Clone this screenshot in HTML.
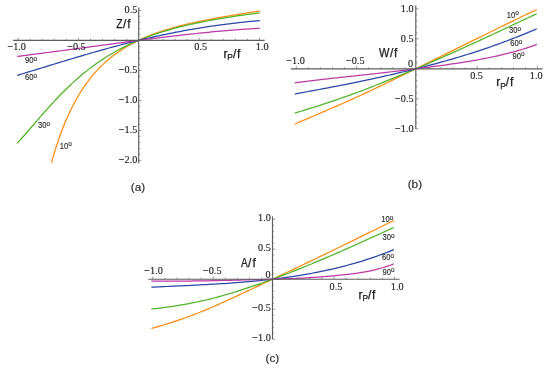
<!DOCTYPE html>
<html lang="en"><head><meta charset="utf-8"><title>Figure</title>
<style>
html,body{margin:0;padding:0;background:#fff;}
svg{display:block;filter:blur(0.3px);}
.tk{font-family:"Liberation Serif",serif;font-size:10.2px;fill:#1a1a1a;stroke:#1a1a1a;stroke-width:.12px;}
.ang{font-family:"Liberation Sans",sans-serif;font-size:8.4px;fill:#262626;stroke:#262626;stroke-width:.12px;}
.axl{font-family:"Liberation Sans",sans-serif;font-size:12px;fill:#1a1a1a;stroke:#1a1a1a;stroke-width:.25px;}
.cap{font-family:"Liberation Sans",sans-serif;font-size:11.8px;fill:#262626;stroke:#262626;stroke-width:.15px;}
</style></head><body>
<svg width="550" height="368" viewBox="0 0 550 368">
<rect width="550" height="368" fill="#fff"/>
<path d="M51.44 162.5 L53.64 154.91 L56.67 145.25 L59.71 136.41 L62.74 128.3 L65.77 120.85 L68.8 114 L71.84 107.69 L74.87 101.86 L77.9 96.47 L80.93 91.49 L83.97 86.87 L87 82.58 L90.03 78.59 L93.06 74.88 L96.1 71.41 L99.13 68.18 L102.16 65.16 L105.19 62.34 L108.23 59.69 L111.26 57.2 L114.29 54.87 L117.32 52.67 L120.36 50.6 L123.39 48.66 L126.42 46.82 L129.45 45.08 L132.49 43.43 L135.52 41.88 L138.55 40.4 L141.58 39 L144.62 37.67 L147.65 36.4 L150.68 35.19 L153.71 34.04 L156.75 32.94 L159.78 31.89 L162.81 30.89 L165.84 29.93 L168.88 29.01 L171.91 28.12 L174.94 27.27 L177.97 26.45 L181.01 25.66 L184.04 24.9 L187.07 24.17 L190.1 23.46 L193.14 22.77 L196.17 22.1 L199.2 21.45 L202.23 20.83 L205.27 20.22 L208.3 19.62 L211.33 19.04 L214.36 18.47 L217.4 17.92 L220.43 17.38 L223.46 16.84 L226.49 16.32 L229.53 15.81 L232.56 15.3 L235.59 14.8 L238.62 14.31 L241.66 13.83 L244.69 13.35 L247.72 12.87 L250.75 12.4 L253.79 11.93 L256.82 11.47 L259.85 11" stroke="#ff8c10" stroke-width="1.25" fill="none" stroke-linejoin="round"/>
<path d="M17.25 143.32 L20.28 139.93 L23.32 136.48 L26.35 133 L29.38 129.49 L32.41 125.97 L35.45 122.45 L38.48 118.94 L41.51 115.46 L44.54 112.01 L47.58 108.6 L50.61 105.24 L53.64 101.95 L56.67 98.71 L59.71 95.55 L62.74 92.45 L65.77 89.44 L68.8 86.5 L71.84 83.65 L74.87 80.88 L77.9 78.19 L80.93 75.59 L83.97 73.07 L87 70.63 L90.03 68.27 L93.06 66 L96.1 63.81 L99.13 61.69 L102.16 59.66 L105.19 57.69 L108.23 55.8 L111.26 53.98 L114.29 52.23 L117.32 50.54 L120.36 48.92 L123.39 47.36 L126.42 45.86 L129.45 44.41 L132.49 43.02 L135.52 41.69 L138.55 40.4 L141.58 39.16 L144.62 37.97 L147.65 36.82 L150.68 35.72 L153.71 34.66 L156.75 33.63 L159.78 32.65 L162.81 31.7 L165.84 30.78 L168.88 29.89 L171.91 29.04 L174.94 28.22 L177.97 27.42 L181.01 26.65 L184.04 25.91 L187.07 25.19 L190.1 24.49 L193.14 23.82 L196.17 23.17 L199.2 22.53 L202.23 21.92 L205.27 21.32 L208.3 20.75 L211.33 20.18 L214.36 19.64 L217.4 19.1 L220.43 18.59 L223.46 18.08 L226.49 17.59 L229.53 17.11 L232.56 16.64 L235.59 16.18 L238.62 15.73 L241.66 15.29 L244.69 14.86 L247.72 14.43 L250.75 14.02 L253.79 13.61 L256.82 13.21 L259.85 12.81" stroke="#50b428" stroke-width="1.25" fill="none" stroke-linejoin="round"/>
<path d="M17.25 75.32 L20.28 74.42 L23.32 73.5 L26.35 72.59 L29.38 71.67 L32.41 70.75 L35.45 69.83 L38.48 68.9 L41.51 67.98 L44.54 67.05 L47.58 66.12 L50.61 65.2 L53.64 64.27 L56.67 63.35 L59.71 62.43 L62.74 61.51 L65.77 60.59 L68.8 59.67 L71.84 58.76 L74.87 57.85 L77.9 56.95 L80.93 56.05 L83.97 55.16 L87 54.27 L90.03 53.39 L93.06 52.52 L96.1 51.65 L99.13 50.79 L102.16 49.93 L105.19 49.09 L108.23 48.25 L111.26 47.42 L114.29 46.6 L117.32 45.79 L120.36 44.99 L123.39 44.2 L126.42 43.42 L129.45 42.65 L132.49 41.89 L135.52 41.14 L138.55 40.4 L141.58 39.67 L144.62 38.96 L147.65 38.25 L150.68 37.56 L153.71 36.88 L156.75 36.21 L159.78 35.55 L162.81 34.9 L165.84 34.27 L168.88 33.65 L171.91 33.04 L174.94 32.44 L177.97 31.86 L181.01 31.29 L184.04 30.73 L187.07 30.18 L190.1 29.64 L193.14 29.12 L196.17 28.61 L199.2 28.11 L202.23 27.62 L205.27 27.15 L208.3 26.69 L211.33 26.23 L214.36 25.8 L217.4 25.37 L220.43 24.95 L223.46 24.55 L226.49 24.15 L229.53 23.77 L232.56 23.4 L235.59 23.04 L238.62 22.69 L241.66 22.35 L244.69 22.02 L247.72 21.7 L250.75 21.4 L253.79 21.1 L256.82 20.81 L259.85 20.53" stroke="#2a46a8" stroke-width="1.25" fill="none" stroke-linejoin="round"/>
<path d="M17.25 56.48 L20.28 56.08 L23.32 55.68 L26.35 55.29 L29.38 54.89 L32.41 54.49 L35.45 54.1 L38.48 53.7 L41.51 53.3 L44.54 52.9 L47.58 52.5 L50.61 52.1 L53.64 51.7 L56.67 51.3 L59.71 50.9 L62.74 50.5 L65.77 50.1 L68.8 49.69 L71.84 49.29 L74.87 48.89 L77.9 48.48 L80.93 48.08 L83.97 47.67 L87 47.26 L90.03 46.86 L93.06 46.45 L96.1 46.04 L99.13 45.64 L102.16 45.23 L105.19 44.82 L108.23 44.42 L111.26 44.01 L114.29 43.61 L117.32 43.2 L120.36 42.8 L123.39 42.39 L126.42 41.99 L129.45 41.59 L132.49 41.19 L135.52 40.8 L138.55 40.4 L141.58 40.01 L144.62 39.62 L147.65 39.23 L150.68 38.84 L153.71 38.46 L156.75 38.08 L159.78 37.7 L162.81 37.33 L165.84 36.96 L168.88 36.59 L171.91 36.23 L174.94 35.87 L177.97 35.52 L181.01 35.17 L184.04 34.83 L187.07 34.49 L190.1 34.15 L193.14 33.83 L196.17 33.5 L199.2 33.19 L202.23 32.88 L205.27 32.57 L208.3 32.28 L211.33 31.98 L214.36 31.7 L217.4 31.42 L220.43 31.15 L223.46 30.88 L226.49 30.63 L229.53 30.37 L232.56 30.13 L235.59 29.89 L238.62 29.67 L241.66 29.44 L244.69 29.23 L247.72 29.02 L250.75 28.82 L253.79 28.63 L256.82 28.44 L259.85 28.26" stroke="#bc38a6" stroke-width="1.25" fill="none" stroke-linejoin="round"/>
<path d="M294.8 124 L297.83 122.7 L300.85 121.41 L303.88 120.12 L306.9 118.84 L309.93 117.55 L312.95 116.26 L315.98 114.98 L319 113.69 L322.02 112.39 L325.05 111.1 L328.08 109.8 L331.1 108.5 L334.12 107.19 L337.15 105.87 L340.18 104.55 L343.2 103.21 L346.23 101.87 L349.25 100.52 L352.28 99.16 L355.3 97.78 L358.33 96.39 L361.35 94.99 L364.38 93.58 L367.4 92.16 L370.43 90.73 L373.45 89.3 L376.48 87.86 L379.5 86.41 L382.53 84.96 L385.55 83.5 L388.57 82.04 L391.6 80.58 L394.62 79.12 L397.65 77.65 L400.68 76.18 L403.7 74.71 L406.73 73.24 L409.75 71.76 L412.78 70.28 L415.8 68.8 L418.83 67.31 L421.85 65.83 L424.88 64.33 L427.9 62.84 L430.93 61.35 L433.95 59.85 L436.98 58.35 L440 56.86 L443.03 55.36 L446.05 53.86 L449.08 52.36 L452.1 50.87 L455.13 49.37 L458.15 47.87 L461.18 46.38 L464.2 44.89 L467.23 43.39 L470.25 41.9 L473.28 40.41 L476.3 38.92 L479.33 37.43 L482.35 35.94 L485.38 34.46 L488.4 32.97 L491.43 31.49 L494.45 30.01 L497.48 28.53 L500.5 27.05 L503.53 25.57 L506.55 24.1 L509.58 22.63 L512.6 21.16 L515.62 19.69 L518.65 18.23 L521.67 16.77 L524.7 15.31 L527.73 13.86 L530.75 12.41 L533.77 10.96 L536.8 9.52" stroke="#ff8c10" stroke-width="1.25" fill="none" stroke-linejoin="round"/>
<path d="M294.8 113.08 L297.83 112.17 L300.85 111.25 L303.88 110.33 L306.9 109.39 L309.93 108.45 L312.95 107.5 L315.98 106.54 L319 105.57 L322.02 104.59 L325.05 103.6 L328.08 102.6 L331.1 101.59 L334.12 100.57 L337.15 99.54 L340.18 98.5 L343.2 97.44 L346.23 96.37 L349.25 95.3 L352.28 94.2 L355.3 93.1 L358.33 91.98 L361.35 90.85 L364.38 89.71 L367.4 88.56 L370.43 87.39 L373.45 86.21 L376.48 85.02 L379.5 83.83 L382.53 82.62 L385.55 81.4 L388.57 80.17 L391.6 78.94 L394.62 77.69 L397.65 76.44 L400.68 75.18 L403.7 73.92 L406.73 72.65 L409.75 71.37 L412.78 70.09 L415.8 68.8 L418.83 67.51 L421.85 66.21 L424.88 64.91 L427.9 63.6 L430.93 62.29 L433.95 60.98 L436.98 59.66 L440 58.33 L443.03 57 L446.05 55.66 L449.08 54.32 L452.1 52.97 L455.13 51.61 L458.15 50.25 L461.18 48.89 L464.2 47.51 L467.23 46.14 L470.25 44.76 L473.28 43.37 L476.3 41.98 L479.33 40.58 L482.35 39.18 L485.38 37.78 L488.4 36.37 L491.43 34.96 L494.45 33.55 L497.48 32.13 L500.5 30.72 L503.53 29.3 L506.55 27.88 L509.58 26.46 L512.6 25.04 L515.62 23.62 L518.65 22.2 L521.67 20.78 L524.7 19.37 L527.73 17.95 L530.75 16.54 L533.77 15.13 L536.8 13.72" stroke="#50b428" stroke-width="1.25" fill="none" stroke-linejoin="round"/>
<path d="M294.8 94.06 L297.83 93.48 L300.85 92.9 L303.88 92.33 L306.9 91.76 L309.93 91.19 L312.95 90.62 L315.98 90.06 L319 89.49 L322.02 88.93 L325.05 88.36 L328.08 87.79 L331.1 87.22 L334.12 86.64 L337.15 86.07 L340.18 85.48 L343.2 84.9 L346.23 84.3 L349.25 83.7 L352.28 83.09 L355.3 82.48 L358.33 81.86 L361.35 81.23 L364.38 80.59 L367.4 79.94 L370.43 79.29 L373.45 78.63 L376.48 77.97 L379.5 77.3 L382.53 76.62 L385.55 75.94 L388.57 75.26 L391.6 74.57 L394.62 73.87 L397.65 73.17 L400.68 72.46 L403.7 71.74 L406.73 71.02 L409.75 70.29 L412.78 69.55 L415.8 68.8 L418.83 68.04 L421.85 67.27 L424.88 66.49 L427.9 65.7 L430.93 64.9 L433.95 64.09 L436.98 63.28 L440 62.45 L443.03 61.61 L446.05 60.76 L449.08 59.9 L452.1 59.03 L455.13 58.15 L458.15 57.26 L461.18 56.36 L464.2 55.44 L467.23 54.52 L470.25 53.57 L473.28 52.61 L476.3 51.64 L479.33 50.65 L482.35 49.64 L485.38 48.62 L488.4 47.59 L491.43 46.53 L494.45 45.46 L497.48 44.38 L500.5 43.27 L503.53 42.15 L506.55 41.02 L509.58 39.87 L512.6 38.7 L515.62 37.52 L518.65 36.32 L521.67 35.1 L524.7 33.87 L527.73 32.62 L530.75 31.36 L533.77 30.08 L536.8 28.78" stroke="#2a46a8" stroke-width="1.25" fill="none" stroke-linejoin="round"/>
<path d="M294.8 82.84 L297.83 82.43 L300.85 82.04 L303.88 81.65 L306.9 81.27 L309.93 80.9 L312.95 80.53 L315.98 80.17 L319 79.81 L322.02 79.46 L325.05 79.12 L328.08 78.78 L331.1 78.44 L334.12 78.11 L337.15 77.78 L340.18 77.45 L343.2 77.12 L346.23 76.8 L349.25 76.47 L352.28 76.15 L355.3 75.82 L358.33 75.49 L361.35 75.17 L364.38 74.84 L367.4 74.5 L370.43 74.17 L373.45 73.83 L376.48 73.5 L379.5 73.15 L382.53 72.81 L385.55 72.46 L388.57 72.11 L391.6 71.75 L394.62 71.39 L397.65 71.03 L400.68 70.66 L403.7 70.29 L406.73 69.92 L409.75 69.55 L412.78 69.18 L415.8 68.8 L418.83 68.42 L421.85 68.04 L424.88 67.66 L427.9 67.27 L430.93 66.88 L433.95 66.49 L436.98 66.09 L440 65.68 L443.03 65.26 L446.05 64.84 L449.08 64.41 L452.1 63.97 L455.13 63.52 L458.15 63.05 L461.18 62.58 L464.2 62.1 L467.23 61.6 L470.25 61.1 L473.28 60.57 L476.3 60.04 L479.33 59.49 L482.35 58.93 L485.38 58.35 L488.4 57.75 L491.43 57.13 L494.45 56.49 L497.48 55.82 L500.5 55.14 L503.53 54.42 L506.55 53.68 L509.58 52.91 L512.6 52.11 L515.62 51.28 L518.65 50.41 L521.67 49.51 L524.7 48.58 L527.73 47.6 L530.75 46.59 L533.77 45.54 L536.8 44.44" stroke="#bc38a6" stroke-width="1.25" fill="none" stroke-linejoin="round"/>
<path d="M151.35 328.52 L154.38 327.67 L157.41 326.8 L160.44 325.9 L163.47 324.99 L166.5 324.05 L169.53 323.09 L172.56 322.11 L175.59 321.11 L178.62 320.09 L181.65 319.04 L184.68 317.97 L187.71 316.88 L190.74 315.76 L193.77 314.62 L196.8 313.46 L199.83 312.27 L202.86 311.06 L205.89 309.82 L208.92 308.56 L211.95 307.28 L214.98 305.97 L218.01 304.64 L221.04 303.29 L224.07 301.92 L227.1 300.54 L230.13 299.14 L233.16 297.74 L236.19 296.32 L239.22 294.9 L242.25 293.48 L245.28 292.06 L248.31 290.63 L251.34 289.21 L254.37 287.78 L257.4 286.35 L260.43 284.92 L263.46 283.49 L266.49 282.06 L269.52 280.63 L272.55 279.2 L275.58 277.77 L278.61 276.33 L281.64 274.89 L284.67 273.46 L287.7 272.02 L290.73 270.58 L293.76 269.14 L296.79 267.69 L299.82 266.25 L302.85 264.8 L305.88 263.35 L308.91 261.9 L311.94 260.45 L314.97 259 L318 257.54 L321.03 256.08 L324.06 254.62 L327.09 253.16 L330.12 251.69 L333.15 250.22 L336.18 248.75 L339.21 247.27 L342.24 245.79 L345.27 244.31 L348.3 242.83 L351.33 241.35 L354.36 239.86 L357.39 238.37 L360.42 236.89 L363.45 235.4 L366.48 233.91 L369.51 232.43 L372.54 230.94 L375.57 229.45 L378.6 227.97 L381.63 226.49 L384.66 225.01 L387.69 223.53 L390.72 222.05 L393.75 220.58" stroke="#ff8c10" stroke-width="1.25" fill="none" stroke-linejoin="round"/>
<path d="M151.35 309.08 L154.38 308.74 L157.41 308.38 L160.44 308.01 L163.47 307.62 L166.5 307.21 L169.53 306.78 L172.56 306.34 L175.59 305.87 L178.62 305.39 L181.65 304.88 L184.68 304.35 L187.71 303.8 L190.74 303.23 L193.77 302.63 L196.8 302.01 L199.83 301.36 L202.86 300.69 L205.89 299.99 L208.92 299.27 L211.95 298.52 L214.98 297.74 L218.01 296.94 L221.04 296.11 L224.07 295.25 L227.1 294.38 L230.13 293.48 L233.16 292.56 L236.19 291.63 L239.22 290.67 L242.25 289.7 L245.28 288.71 L248.31 287.71 L251.34 286.7 L254.37 285.67 L257.4 284.62 L260.43 283.57 L263.46 282.49 L266.49 281.41 L269.52 280.31 L272.55 279.2 L275.58 278.08 L278.61 276.94 L281.64 275.79 L284.67 274.63 L287.7 273.46 L290.73 272.28 L293.76 271.08 L296.79 269.88 L299.82 268.66 L302.85 267.44 L305.88 266.21 L308.91 264.96 L311.94 263.71 L314.97 262.45 L318 261.19 L321.03 259.91 L324.06 258.62 L327.09 257.33 L330.12 256.03 L333.15 254.72 L336.18 253.4 L339.21 252.08 L342.24 250.75 L345.27 249.41 L348.3 248.07 L351.33 246.72 L354.36 245.37 L357.39 244.01 L360.42 242.65 L363.45 241.28 L366.48 239.91 L369.51 238.54 L372.54 237.16 L375.57 235.78 L378.6 234.4 L381.63 233.02 L384.66 231.63 L387.69 230.25 L390.72 228.86 L393.75 227.48" stroke="#50b428" stroke-width="1.25" fill="none" stroke-linejoin="round"/>
<path d="M151.35 287.18 L154.38 287.04 L157.41 286.91 L160.44 286.77 L163.47 286.63 L166.5 286.5 L169.53 286.36 L172.56 286.22 L175.59 286.08 L178.62 285.94 L181.65 285.8 L184.68 285.66 L187.71 285.51 L190.74 285.36 L193.77 285.21 L196.8 285.06 L199.83 284.9 L202.86 284.74 L205.89 284.58 L208.92 284.41 L211.95 284.24 L214.98 284.06 L218.01 283.88 L221.04 283.7 L224.07 283.51 L227.1 283.31 L230.13 283.1 L233.16 282.89 L236.19 282.67 L239.22 282.44 L242.25 282.2 L245.28 281.95 L248.31 281.69 L251.34 281.42 L254.37 281.14 L257.4 280.84 L260.43 280.54 L263.46 280.22 L266.49 279.89 L269.52 279.55 L272.55 279.2 L275.58 278.83 L278.61 278.45 L281.64 278.06 L284.67 277.65 L287.7 277.23 L290.73 276.79 L293.76 276.34 L296.79 275.87 L299.82 275.38 L302.85 274.88 L305.88 274.36 L308.91 273.82 L311.94 273.26 L314.97 272.69 L318 272.09 L321.03 271.48 L324.06 270.84 L327.09 270.19 L330.12 269.52 L333.15 268.82 L336.18 268.1 L339.21 267.36 L342.24 266.6 L345.27 265.82 L348.3 265.01 L351.33 264.18 L354.36 263.32 L357.39 262.44 L360.42 261.53 L363.45 260.6 L366.48 259.64 L369.51 258.65 L372.54 257.63 L375.57 256.59 L378.6 255.51 L381.63 254.41 L384.66 253.27 L387.69 252.11 L390.72 250.91 L393.75 249.68" stroke="#2a46a8" stroke-width="1.25" fill="none" stroke-linejoin="round"/>
<path d="M151.35 281.24 L154.38 281.24 L157.41 281.24 L160.44 281.23 L163.47 281.22 L166.5 281.21 L169.53 281.2 L172.56 281.18 L175.59 281.17 L178.62 281.14 L181.65 281.12 L184.68 281.09 L187.71 281.06 L190.74 281.03 L193.77 280.99 L196.8 280.95 L199.83 280.91 L202.86 280.86 L205.89 280.81 L208.92 280.76 L211.95 280.7 L214.98 280.64 L218.01 280.57 L221.04 280.5 L224.07 280.43 L227.1 280.36 L230.13 280.29 L233.16 280.21 L236.19 280.13 L239.22 280.06 L242.25 279.98 L245.28 279.9 L248.31 279.83 L251.34 279.75 L254.37 279.67 L257.4 279.6 L260.43 279.52 L263.46 279.44 L266.49 279.36 L269.52 279.28 L272.55 279.2 L275.58 279.12 L278.61 279.03 L281.64 278.94 L284.67 278.84 L287.7 278.74 L290.73 278.63 L293.76 278.5 L296.79 278.37 L299.82 278.22 L302.85 278.06 L305.88 277.88 L308.91 277.69 L311.94 277.49 L314.97 277.27 L318 277.04 L321.03 276.81 L324.06 276.56 L327.09 276.31 L330.12 276.05 L333.15 275.78 L336.18 275.51 L339.21 275.23 L342.24 274.94 L345.27 274.63 L348.3 274.3 L351.33 273.95 L354.36 273.56 L357.39 273.14 L360.42 272.68 L363.45 272.18 L366.48 271.63 L369.51 271.03 L372.54 270.37 L375.57 269.66 L378.6 268.87 L381.63 268.02 L384.66 267.1 L387.69 266.1 L390.72 265.01 L393.75 263.84" stroke="#bc38a6" stroke-width="1.25" fill="none" stroke-linejoin="round"/>
<line x1="13.1" y1="40.4" x2="264.7" y2="40.4" stroke="#5c5c5c" stroke-width="1.15"/>
<line x1="138.7" y1="7.5" x2="138.7" y2="163.2" stroke="#5c5c5c" stroke-width="1.15"/>
<path d="M18.1 40.4v-2.7M30.17 40.4v-1.6M42.24 40.4v-1.6M54.31 40.4v-1.6M66.38 40.4v-1.6M78.45 40.4v-2.7M90.52 40.4v-1.6M102.59 40.4v-1.6M114.66 40.4v-1.6M126.73 40.4v-1.6M150.87 40.4v-1.6M162.94 40.4v-1.6M175.01 40.4v-1.6M187.08 40.4v-1.6M199.15 40.4v-2.7M211.22 40.4v-1.6M223.29 40.4v-1.6M235.36 40.4v-1.6M247.43 40.4v-1.6M259.5 40.4v-2.7M138.7 160.4h2.7M138.7 154.4h1.6M138.7 148.4h1.6M138.7 142.4h1.6M138.7 136.4h1.6M138.7 130.4h2.7M138.7 124.4h1.6M138.7 118.4h1.6M138.7 112.4h1.6M138.7 106.4h1.6M138.7 100.4h2.7M138.7 94.4h1.6M138.7 88.4h1.6M138.7 82.4h1.6M138.7 76.4h1.6M138.7 70.4h2.7M138.7 64.4h1.6M138.7 58.4h1.6M138.7 52.4h1.6M138.7 46.4h1.6M138.7 34.4h1.6M138.7 28.4h1.6M138.7 22.4h1.6M138.7 16.4h1.6M138.7 10.4h2.7" stroke="#6e6e6e" stroke-width="0.7" fill="none"/>
<line x1="290.8" y1="68.8" x2="542.5" y2="68.8" stroke="#5c5c5c" stroke-width="1.15"/>
<line x1="415.8" y1="5.6" x2="415.8" y2="129.0" stroke="#5c5c5c" stroke-width="1.15"/>
<path d="M296.3 68.8v-2.7M308.36 68.8v-1.6M320.42 68.8v-1.6M332.48 68.8v-1.6M344.54 68.8v-1.6M356.6 68.8v-2.7M368.66 68.8v-1.6M380.72 68.8v-1.6M392.78 68.8v-1.6M404.84 68.8v-1.6M428.96 68.8v-1.6M441.02 68.8v-1.6M453.08 68.8v-1.6M465.14 68.8v-1.6M477.2 68.8v-2.7M489.26 68.8v-1.6M501.32 68.8v-1.6M513.38 68.8v-1.6M525.44 68.8v-1.6M537.5 68.8v-2.7M415.8 128.8h2.7M415.8 122.8h1.6M415.8 116.8h1.6M415.8 110.8h1.6M415.8 104.8h1.6M415.8 98.8h2.7M415.8 92.8h1.6M415.8 86.8h1.6M415.8 80.8h1.6M415.8 74.8h1.6M415.8 62.8h1.6M415.8 56.8h1.6M415.8 50.8h1.6M415.8 44.8h1.6M415.8 38.8h2.7M415.8 32.8h1.6M415.8 26.8h1.6M415.8 20.8h1.6M415.8 14.8h1.6M415.8 8.8h2.7" stroke="#6e6e6e" stroke-width="0.7" fill="none"/>
<line x1="148.3" y1="279.2" x2="399.6" y2="279.2" stroke="#5c5c5c" stroke-width="1.15"/>
<line x1="272.5" y1="216.4" x2="272.5" y2="339.3" stroke="#5c5c5c" stroke-width="1.15"/>
<path d="M152.8 279.2v-2.7M164.88 279.2v-1.6M176.96 279.2v-1.6M189.04 279.2v-1.6M201.12 279.2v-1.6M213.2 279.2v-2.7M225.28 279.2v-1.6M237.36 279.2v-1.6M249.44 279.2v-1.6M261.52 279.2v-1.6M285.68 279.2v-1.6M297.76 279.2v-1.6M309.84 279.2v-1.6M321.92 279.2v-1.6M334 279.2v-2.7M346.08 279.2v-1.6M358.16 279.2v-1.6M370.24 279.2v-1.6M382.32 279.2v-1.6M394.4 279.2v-2.7M272.5 339.2h2.7M272.5 333.2h1.6M272.5 327.2h1.6M272.5 321.2h1.6M272.5 315.2h1.6M272.5 309.2h2.7M272.5 303.2h1.6M272.5 297.2h1.6M272.5 291.2h1.6M272.5 285.2h1.6M272.5 273.2h1.6M272.5 267.2h1.6M272.5 261.2h1.6M272.5 255.2h1.6M272.5 249.2h2.7M272.5 243.2h1.6M272.5 237.2h1.6M272.5 231.2h1.6M272.5 225.2h1.6M272.5 219.2h2.7" stroke="#6e6e6e" stroke-width="0.7" fill="none"/>
<text x="7.4" y="50.0" text-anchor="start" class="tk">−1.0</text>
<text x="67.2" y="50.0" text-anchor="start" class="tk">−0.5</text>
<text x="194.3" y="50.0" text-anchor="start" class="tk">0.5</text>
<text x="255.8" y="50.0" text-anchor="start" class="tk">1.0</text>
<text x="137.3" y="13.3" text-anchor="end" class="tk">0.5</text>
<text x="137.3" y="73.3" text-anchor="end" class="tk">−0.5</text>
<text x="137.3" y="103.3" text-anchor="end" class="tk">−1.0</text>
<text x="137.3" y="133.3" text-anchor="end" class="tk">−1.5</text>
<text x="137.3" y="163.3" text-anchor="end" class="tk">−2.0</text>
<text y="27.9" class="axl"><tspan x="116.2" textLength="6.4" lengthAdjust="spacingAndGlyphs">Z</tspan><tspan x="122.9">/</tspan><tspan x="127.3">f</tspan></text>
<text y="57.5" class="axl"><tspan x="223.4">r</tspan><tspan x="227.3" dy="2.9" font-size="8.4">P</tspan><tspan x="232.9" dy="-2.9">/</tspan><tspan x="237">f</tspan></text>
<text transform="translate(25 63.1) scale(.91 1)" class="ang">90<tspan dy="-2.5" font-size="7.1">o</tspan></text>
<text transform="translate(25 80.1) scale(.91 1)" class="ang">60<tspan dy="-2.5" font-size="7.1">o</tspan></text>
<text transform="translate(37.9 128) scale(.91 1)" class="ang">30<tspan dy="-2.5" font-size="7.1">o</tspan></text>
<text transform="translate(59.8 148.5) scale(.91 1)" class="ang">10<tspan dy="-2.5" font-size="7.1">o</tspan></text>
<text x="130.8" y="190.5" class="cap">(a)</text>
<text x="286.3" y="63.5" text-anchor="start" class="tk">−1.0</text>
<text x="346.0" y="63.5" text-anchor="start" class="tk">−0.5</text>
<text x="470.2" y="79.3" text-anchor="start" class="tk">0.5</text>
<text x="529.8" y="79.3" text-anchor="start" class="tk">1.0</text>
<text x="413.0" y="67.3" text-anchor="end" class="tk">0</text>
<text x="413.6" y="11.5" text-anchor="end" class="tk">1.0</text>
<text x="413.6" y="41.5" text-anchor="end" class="tk">0.5</text>
<text x="413.6" y="101.5" text-anchor="end" class="tk">−0.5</text>
<text x="413.6" y="131.5" text-anchor="end" class="tk">−1.0</text>
<text y="56.6" class="axl"><tspan x="379.0" textLength="10.4" lengthAdjust="spacingAndGlyphs">W</tspan><tspan x="389.9">/</tspan><tspan x="394.1">f</tspan></text>
<text y="86.1" class="axl"><tspan x="496.3">r</tspan><tspan x="500.2" dy="2.9" font-size="8.4">P</tspan><tspan x="505.8" dy="-2.9">/</tspan><tspan x="509.9">f</tspan></text>
<text transform="translate(506.7 17.6) scale(.91 1)" class="ang">10<tspan dy="-2.5" font-size="7.1">o</tspan></text>
<text transform="translate(508.9 33.2) scale(.91 1)" class="ang">30<tspan dy="-2.5" font-size="7.1">o</tspan></text>
<text transform="translate(510.3 46.1) scale(.91 1)" class="ang">60<tspan dy="-2.5" font-size="7.1">o</tspan></text>
<text transform="translate(512.6 58.6) scale(.91 1)" class="ang">90<tspan dy="-2.5" font-size="7.1">o</tspan></text>
<text x="407.7" y="188.3" class="cap">(b)</text>
<text x="144.3" y="274" text-anchor="start" class="tk">−1.0</text>
<text x="203.0" y="274" text-anchor="start" class="tk">−0.5</text>
<text x="329.6" y="289.5" text-anchor="start" class="tk">0.5</text>
<text x="390.8" y="289.5" text-anchor="start" class="tk">1.0</text>
<text x="270.5" y="277.5" text-anchor="end" class="tk">0</text>
<text x="270.8" y="221.3" text-anchor="end" class="tk">1.0</text>
<text x="270.8" y="251.3" text-anchor="end" class="tk">0.5</text>
<text x="270.8" y="311.3" text-anchor="end" class="tk">−0.5</text>
<text x="270.8" y="341.3" text-anchor="end" class="tk">−1.0</text>
<text y="267.0" class="axl"><tspan x="240.9" textLength="6.8" lengthAdjust="spacingAndGlyphs">A</tspan><tspan x="247.9">/</tspan><tspan x="252.4">f</tspan></text>
<text y="298.5" class="axl"><tspan x="358.5">r</tspan><tspan x="362.4" dy="2.9" font-size="8.4">P</tspan><tspan x="368" dy="-2.9">/</tspan><tspan x="372.1">f</tspan></text>
<text transform="translate(381.2 222.2) scale(.91 1)" class="ang">10<tspan dy="-2.5" font-size="7.1">o</tspan></text>
<text transform="translate(382.4 240.1) scale(.91 1)" class="ang">30<tspan dy="-2.5" font-size="7.1">o</tspan></text>
<text transform="translate(382 260.1) scale(.91 1)" class="ang">60<tspan dy="-2.5" font-size="7.1">o</tspan></text>
<text transform="translate(382.4 274.5) scale(.91 1)" class="ang">90<tspan dy="-2.5" font-size="7.1">o</tspan></text>
<text x="265.5" y="361.5" class="cap">(c)</text>
</svg>
</body></html>
